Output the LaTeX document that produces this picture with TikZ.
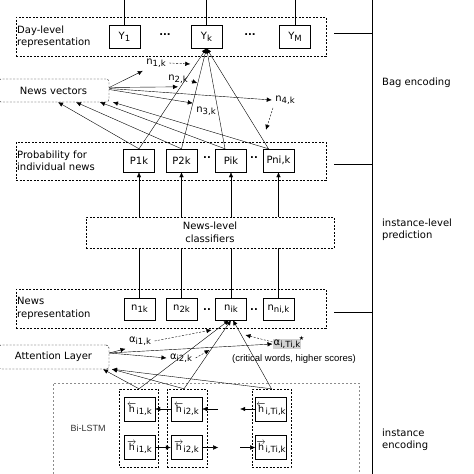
\documentclass[tikz,border=0pt]{standalone}
\usepackage{fontspec}
\setmainfont{DejaVu Sans}
\newfontfamily\arialfont{Liberation Sans}
\usetikzlibrary{arrows.meta}

\newcommand\lowSub[1]{\raisebox{-2pt}{\fontsize{8.5}{9}\selectfont #1}}
\newcommand\hBack[1]{$\overleftarrow{\mbox{h}}$\lowSub{#1}}
\newcommand\hFwd[1]{$\overrightarrow{\mbox{h}}$\lowSub{#1}}

\begin{document}
\begin{tikzpicture}[x=1pt, y=-1pt,
            font=\fontsize{10}{12.5}\selectfont,
            rowBox/.style={draw, dash pattern=on 2pt off 1.5pt, inner sep=0pt},
            roundBox/.style={rowBox, rounded corners=3pt},
            colBox/.style={rowBox, minimum width=39pt, minimum height=78pt},
            lstmBox/.style={draw=black!45, dash pattern=on 2pt off 2pt, inner sep=0pt},
            vBox/.style={draw, minimum width=31pt, minimum height=23pt, inner sep=1pt},
            hBox/.style={vBox, minimum height=24pt, font=\fontsize{9.5}{12}\selectfont},
            rowLabel/.style={anchor=west, align=left, inner sep=1pt},
            arr/.style={-{Latex[length=5pt, width=4.5pt]}},
            dArr/.style={arr, dash pattern=on 2pt off 1.5pt},
            dots/.style={font=\fontsize{10}{12}\selectfont\bfseries}
        ]

        \useasboundingbox (0,0) rectangle (474,474);
        \coordinate (top) at (0,0);

        % row frames
        \node [rowBox, minimum width=310pt, minimum height=39pt] (day) at (171,36.5) {};
        \node [rowBox, minimum width=310pt, minimum height=38pt] (prob) at (171,161) {};
        \node [rowBox, minimum width=310pt, minimum height=39pt] (rep) at (171,308.5) {};
        \node [rowBox, minimum width=248pt, minimum height=31pt, align=center] (cls) at (210,232.5) {News-level\\classifiers};
        \node [roundBox, minimum width=111pt, minimum height=23pt] (nv) at (53.5,90.5) {News vectors};
        \node [roundBox, minimum width=111pt, minimum height=24pt] (att) at (53.5,357) {Attention Layer};
        \node [lstmBox, minimum width=306pt, minimum height=107pt] (lstm) at (206,436.5) {};

        \node [rowLabel] at (16,36.5) {Day-level\\representation};
        \node [rowLabel] at (16,161) {Probability for\\individual news};
        \node [rowLabel] at (16,308.5) {News\\representation};
        \node [anchor=west, font=\arialfont\fontsize{9}{11}\selectfont, text=black!80] at (67,428) {Bi-LSTM};

        % day level
        \node [vBox] (y1) at (124.5,36.5) {Y\lowSub{1}};
        \node [vBox] (yk) at (206.5,36.5) {Y\lowSub{k}};
        \node [vBox] (ym) at (295,36.5) {Y\lowSub{M}};
        \node [dots] at (165,35) {...};
        \node [dots] at (250,35) {...};
        \foreach \y in {y1,yk,ym}
            \draw (\y.north) -- (\y.north |- top);

        % news level
        \node [vBox] (p1) at (139,160.5) {P1k};
        \node [vBox] (p2) at (181.5,160.5) {P2k};
        \node [vBox] (pi) at (231,160.5) {Pik};
        \node [vBox] (pn) at (278.5,160.5) {Pni,k};
        \node [dots] at (207,158) {..};
        \node [dots] at (254,158) {..};

        \node [vBox, minimum height=22pt] (n1) at (139.5,309) {n\lowSub{1k}};
        \node [vBox, minimum height=22pt] (n2) at (181.5,309) {n\lowSub{2k}};
        \node [vBox, minimum height=22pt] (ni) at (231,309) {n\lowSub{ik}};
        \node [vBox, minimum height=22pt] (nn) at (278.5,309) {n\lowSub{ni,k}};
        \node [dots] at (207,310) {..};
        \node [dots] at (254,310) {..};

        \foreach \a/\b in {n1/p1,n2/p2,ni/pi,nn/pn} {
            \draw (\a.north) -- (\a.north |- cls.south);
            \draw [arr] (\b.south |- cls.north) -- (\b.south);
        }

        % bag encoding
        \foreach \p/\s/\t in {p1/0/4.5,p2/0/22.5,pi/-6/46.5,pn/-10/59.5} {
            \draw [arr] ([xshift=\s pt]\p.north) -- (yk.south);
            \draw [arr] ([xshift=\s pt]\p.north) -- ([xshift=\t pt]nv.south);
        }

        \node (n1lab) at (156,63) {n\lowSub{1,k}};
        \node (n2lab) at (178,79) {n\lowSub{2,k}};
        \node (n3lab) at (206,111) {n\lowSub{3,k}};
        \node (n4lab) at (285,100) {n\lowSub{4,k}};
        \draw [arr] ([yshift=3pt]nv.east) -- (n1lab.south west);
        \draw [arr] ([yshift=3pt]nv.east) -- (n2lab.south);
        \draw [arr] ([yshift=1pt]nv.east) -- (n3lab.north west);
        \draw [arr] ([yshift=2pt]nv.east) -- (n4lab.west);
        \draw [dArr] (n1lab.east) -- ++(21,1);
        \draw [dArr] ([yshift=-2pt]n2lab.east) -- ++(6,2);
        \draw [dArr] ([xshift=-12pt]n4lab.south) -- ++(-7,22);

        % instance encoding
        \node [colBox] (c1) at (139,428) {};
        \node [colBox, minimum width=40pt] (c2) at (187,428) {};
        \node [colBox] (c3) at (271.5,428) {};
        \node [hBox] (h1b) at (139.5,409) {\hBack{i1,k}};
        \node [hBox] (h2b) at (186.5,409) {\hBack{i2,k}};
        \node [hBox] (hTb) at (271,409) {\hBack{i,Ti,k}};
        \node [hBox] (h1f) at (139.5,447.5) {\hFwd{i1,k}};
        \node [hBox] (h2f) at (186.5,447.5) {\hFwd{i2,k}};
        \node [hBox] (hTf) at (271,447.5) {\hFwd{i,Ti,k}};

        \draw [arr] (h2b.west) -- (h1b.east);
        \draw [arr] ([xshift=16pt]h2b.east) -- (h2b.east);
        \draw [arr] (hTb.west) -- ++(-15,0);
        \draw [arr] (h1f.east) -- (h2f.west);
        \draw [arr] (h2f.east) -- ++(16,0);
        \draw [arr] ([xshift=-15pt]hTf.west) -- (hTf.west);

        \draw [arr] (c1.north) -- ([xshift=-2pt]ni.south);
        \draw [arr] ([xshift=-3pt]c2.north) -- (ni.south);
        \draw [arr] (c3.north) -- ([xshift=2pt]ni.south);
        \draw [arr] (c1.north) -- ([xshift=49.5pt]att.south);
        \draw [arr] ([xshift=-3pt]c2.north) -- ([xshift=58.5pt]att.south);
        \draw [arr] (c3.north) -- ([xshift=58.5pt]att.south);

        \node (a1lab) at (140,341) {α\lowSub{i1,k}};
        \node (a2lab) at (181,358) {α\lowSub{i2,k}};
        \node [fill=black!18, inner sep=1pt] (aTlab) at (287,344) {α\lowSub{i,Ti,k}};
        \node [font=\fontsize{6}{7}\selectfont, inner sep=0pt] at (aTlab.north east) {★};
        \node [font=\arialfont\fontsize{9.5}{11}\selectfont] (crit) at (294,359) {(critical words, higher scores)};
        \draw [arr] ([yshift=4pt]att.east) -- (a1lab.south west);
        \draw [arr] ([yshift=4pt]att.east) -- (a2lab.west);
        \draw [arr] ([yshift=4pt]att.east) -- (aTlab.west);
        \draw [dArr] (a1lab.east) -- ++(57,-11);
        \draw [dArr] (a2lab.east) -- ++(14,-8);
        \draw [dArr] ([yshift=2pt]aTlab.west) -- ++(-27,-7);

        % stages
        \draw (372,0) -- (372,474);
        \draw (334,33) -- (372,33);
        \draw (334,164) -- (372,164);
        \draw (334,312) -- (372,312);
        \node [rowLabel] at (381,83) {Bag encoding};
        \node [rowLabel] at (381,229.5) {instance-level\\prediction};
        \node [rowLabel] at (381,439.5) {instance\\encoding};

    \end{tikzpicture}
\end{document}
